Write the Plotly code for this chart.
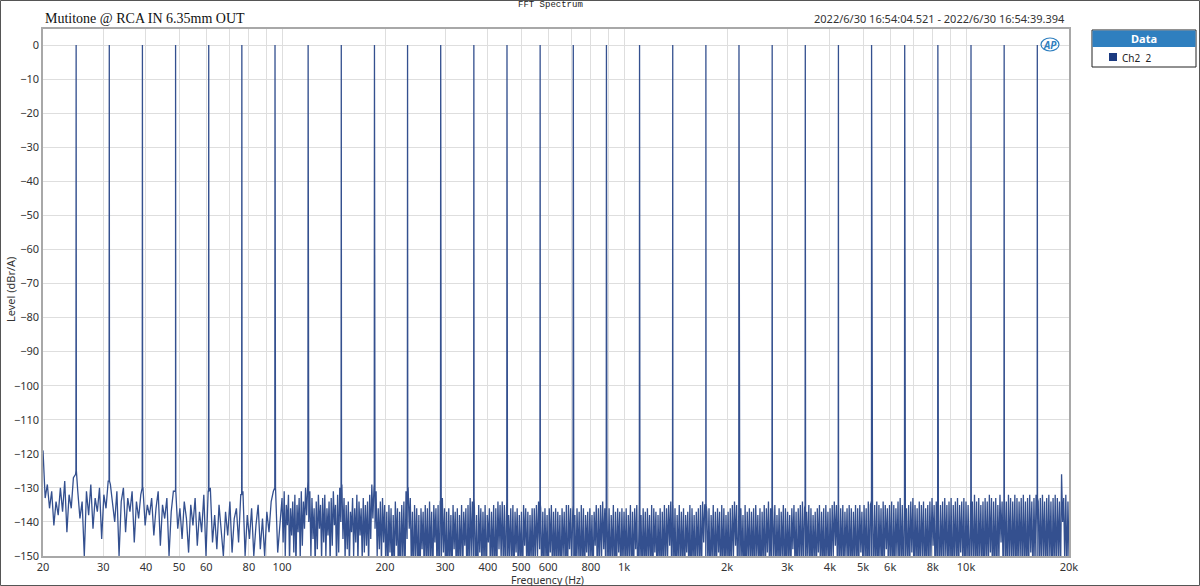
import numpy as np
import plotly.graph_objects as go

# ---------------- data ----------------
tone_freqs = [25.0, 31.25, 39.06, 48.83, 61.04, 76.29, 95.37, 119.2, 149.0, 186.3,
              232.8, 291.0, 363.8, 454.7, 568.4, 710.5, 888.2, 1110, 1388, 1735,
              2168, 2711, 3388, 4235, 5294, 6617, 8272, 10340, 12925, 16156]
tone_levels = [0] * 30
tone_base = [-125, -128, -130, -131, -131, -132, -130, -128, -130, -129,
             -130, -134, -133, -134, -135, -135, -135, -135, -135, -135,
             -135, -135, -135, -135, -134, -134, -134, -133, -133, -133]

# noise floor 20 Hz - 100 Hz
noise_20_100 = [
    -119, -133, -129, -136, -131, -141, -134, -138, -130, -137,
    -128, -143, -132, -136, -127, -126, -131, -139, -134, -150,
    -131, -138, -129, -142, -133, -137, -130, -145, -132, -136,
    -128, -129, -135, -140, -131, -150, -134, -130, -143, -133,
    -137, -131, -146, -134, -139, -132, -130, -141, -135, -138,
    -133, -144, -136, -131, -147, -135, -139, -133, -150, -137,
    -131, -130, -142, -136, -145, -134, -139, -149, -135, -141,
    -133, -147, -137, -143, -132, -150, -131, -130, -146, -138,
    -148, -135, -142, -150, -137, -144, -134, -149, -139, -136,
    -146, -132, -131, -150, -138, -145, -136, -150, -141, -135,
    -148, -139, -150, -137, -143, -134, -131, -130, -149, -140]

# noise floor 100 Hz - 1 kHz (local maxima / minima)
peaks_100_1k = [
    -133, -131, -135, -132, -136, -134, -132, -135, -133, -131,
    -134, -130, -128, -131, -133, -136, -134, -132, -135, -133,
    -132, -136, -134, -133, -131, -135, -132, -130, -129, -133,
    -135, -134, -137, -133, -136, -132, -134, -136, -133, -135,
    -134, -132, -129, -130, -131, -136, -134, -133,
    -135, -137, -135, -136, -138, -134, -136, -137, -135, -134,
    -131, -130, -133, -137, -135, -136, -138, -136, -137, -135,
    -136, -134, -137, -135, -136, -135, -134, -133, -136, -137,
    -136, -138, -135, -137, -136, -138, -135, -137, -136, -135,
    -133, -134, -136, -138, -135, -136, -137, -135, -138, -136,
    -137, -135, -136, -134, -135, -134, -135, -137, -138, -136,
    -135, -137, -136, -138, -137, -135, -136, -137, -138, -136,
    -136, -135, -134, -136, -137, -136, -138, -136, -135, -137,
    -136, -137, -138, -136, -137, -135, -135, -136, -137, -138,
    -136, -137, -135, -136, -138, -137, -136, -138, -137, -135,
    -136, -135, -134, -136, -137, -136, -138, -135, -137, -136, -137, -136]
dips_100_1k = [
    -146, -150, -141, -152, -144, -149, -153, -143, -151, -147,
    -142, -138, -140, -150, -145, -153, -148, -142, -151, -146,
    -150, -144, -152, -147, -141, -153, -149, -140, -145, -151,
    -148, -153, -143, -150, -146, -152, -144, -151, -149, -147,
    -153, -145, -139, -142, -150, -148, -152, -146,
    -152, -156, -149, -158, -153, -147, -160, -155, -151, -157,
    -145, -142, -154, -158, -150, -156, -161, -148, -155, -153,
    -157, -151, -159, -146, -154, -158, -152, -149, -156, -160,
    -153, -157, -148, -155, -159, -151, -156, -147, -158, -154,
    -150, -152, -157, -161, -149, -155, -153, -158, -146, -156,
    -152, -159, -154, -148, -151, -153, -157, -160, -150, -155,
    -158, -149, -156, -153, -161, -147, -154, -159, -152, -157,
    -151, -150, -148, -158, -155, -153, -160, -149, -156, -154,
    -157, -152, -159, -150, -155, -161, -148, -153, -158, -156,
    -151, -157, -154, -160, -149, -155, -152, -158, -147, -156,
    -153, -150, -148, -159, -154, -157, -151, -160, -155, -149, -158, -153]

# noise floor 1 kHz - 20 kHz (local maxima / minima)
peaks_1k_20k = [
    -137, -136, -138, -135, -137, -136, -135, -137, -138, -136,
    -137, -136, -138, -135, -136, -137, -138, -136, -137, -135,
    -136, -135, -134, -137, -136, -138, -135, -137, -136, -138,
    -137, -135, -136, -138, -137, -136, -135, -134, -135, -137,
    -136, -138, -135, -137, -136, -137, -135, -136, -138, -137,
    -136, -135, -134, -135, -137, -136, -138, -135, -137, -136,
    -137, -136, -135, -138, -136, -137, -135, -136, -134, -136,
    -137, -135, -138, -136, -137, -135, -136, -137, -138, -136,
    -135, -137, -136, -135, -134, -136, -137, -135, -136, -138,
    -137, -136, -135, -137, -136, -135, -137, -136, -135, -134,
    -135, -137, -136, -135, -137, -136, -135, -136, -137, -135,
    -136, -135, -137, -135, -136, -134, -135, -136, -135, -134,
    -135, -136, -134, -135, -136, -135, -134, -135, -136, -134,
    -133, -135, -134, -136, -135, -134, -133, -135, -136, -134,
    -135, -134, -136, -135, -134, -133, -135, -134, -136, -135,
    -134, -133, -135, -134, -133, -135, -134, -133, -135, -134,
    -133, -134, -135, -133, -134, -132, -134, -133, -135, -134,
    -133, -134, -132, -133, -134, -133, -135, -132, -134, -133,
    -134, -132, -133, -134, -132, -133, -134, -133, -132, -134,
    -133, -132, -134, -133, -132, -134, -133, -132, -134, -133,
    -132, -134, -133, -132, -133, -134, -126, -133, -132, -134]
dips_1k_20k = [
    -153, -157, -150, -159, -155, -148, -161, -152, -156, -154,
    -158, -151, -155, -160, -149, -157, -153, -159, -152, -156,
    -150, -147, -158, -154, -160, -151, -156, -153, -159, -149,
    -155, -161, -152, -157, -150, -158, -154, -146, -156, -153,
    -159, -151, -157, -155, -149, -160, -153, -156, -152, -158,
    -154, -150, -147, -159, -155, -152, -161, -157, -151, -156,
    -153, -158, -150, -155, -160, -152, -157, -149, -154, -159,
    -151, -156, -153, -158, -150, -161, -155, -152, -157, -148,
    -154, -159, -151, -156, -153, -160, -150, -157, -155, -152,
    -158, -149, -156, -153, -161, -151, -157, -154, -150, -147,
    -155, -159, -152, -157, -150, -156, -153, -160, -151, -158,
    -154, -149, -156, -152, -159, -155, -150, -157, -153, -161,
    -151, -158, -154, -148, -156, -152, -160, -155, -150, -157,
    -153, -159, -151, -156, -154, -149, -158, -152, -157, -155,
    -150, -160, -153, -156, -151, -147, -158, -154, -159, -152,
    -156, -150, -157, -153, -161, -151, -155, -158, -149, -154,
    -159, -152, -156, -150, -157, -153, -160, -151, -155, -158,
    -152, -156, -149, -159, -154, -157, -151, -146, -155, -153,
    -160, -150, -157, -152, -158, -154, -151, -156, -153, -159,
    -155, -149, -157, -152, -160, -153, -156, -150, -158, -154,
    -151, -159, -153, -156, -150, -157, -140, -152, -155, -150]

grid_vals = [20, 30, 40, 50, 60, 70, 80, 90, 100, 200, 300, 400, 500, 600, 700, 800, 900,
             1000, 2000, 3000, 4000, 5000, 6000, 7000, 8000, 9000, 10000, 20000]
grid_text = ["20", "30", "40", "50", "60", "", "80", "", "100", "200", "300", "400", "500",
             "600", "", "800", "", "1k", "2k", "3k", "4k", "5k", "6k", "", "8k", "", "10k", "20k"]
y_ticks = [0, -10, -20, -30, -40, -50, -60, -70, -80, -90, -100, -110, -120, -130, -140, -150]


# ---------------- build series ----------------
def interleave(peaks, dips):
    out = []
    for p, d in zip(peaks, dips):
        out += [p, d]
    return out


fa = np.geomspace(20, 100, len(noise_20_100), endpoint=False)
lb = interleave(peaks_100_1k, dips_100_1k)
fb = np.geomspace(100, 1000, len(lb), endpoint=False)
lc = interleave(peaks_1k_20k, dips_1k_20k)
fc = np.geomspace(1000, 20000, len(lc), endpoint=True)
freqs = list(fa) + list(fb) + list(fc)
levels = noise_20_100 + lb + lc
for f, lv, base in zip(tone_freqs, tone_levels, tone_base):
    freqs += [f * 0.9985, f, f * 1.0015]
    levels += [base, lv, base]
order = np.argsort(freqs)
freqs = np.array(freqs)[order]
levels = np.array(levels)[order]

fig = go.Figure()
fig.add_trace(go.Scatter(x=freqs, y=levels, mode="lines",
                         line=dict(color="#34508f", width=1.3), name="Ch2 2",
                         hoverinfo="skip", showlegend=False))

L, R, T, B = 43, 1069, 29, 556
W, H = 1200, 586


def px(x):
    return (x - L) / (R - L)


def py(y):
    return (B - y) / (B - T)


fig.update_layout(
    width=W, height=H,
    margin=dict(l=L, r=W - R, t=T, b=H - B),
    paper_bgcolor="white", plot_bgcolor="white",
    font=dict(family="Noto Sans, Open Sans, sans-serif", size=11, color="#333333"),
)
fig.update_xaxes(type="log", range=[np.log10(20), np.log10(20000)],
                 tickvals=grid_vals, ticktext=grid_text, showgrid=True,
                 gridcolor="#dedede", gridwidth=1, showline=True, linecolor="#a8a8a8",
                 linewidth=1.5, mirror=True, ticks="", tickfont=dict(size=11, color="#333"),
                 zeroline=False)
fig.update_yaxes(range=[-150, 4.7], tickvals=y_ticks, showgrid=True, gridcolor="#dedede",
                 gridwidth=1, showline=True, linecolor="#a8a8a8", linewidth=1.5, mirror=True,
                 ticks="", tickfont=dict(size=11, color="#333"), zeroline=False)

shapes = [
    # outer frame
    dict(type="rect", xref="paper", yref="paper", x0=px(0.5), x1=px(1199.5), y0=py(585.5), y1=py(0.5),
         line=dict(color="#555555", width=1), layer="below"),
    # legend box
    dict(type="rect", xref="paper", yref="paper", x0=px(1092), x1=px(1196), y0=py(67), y1=py(30),
         line=dict(color="#222222", width=1), fillcolor="white"),
    dict(type="rect", xref="paper", yref="paper", x0=px(1092.5), x1=px(1195.5), y0=py(47), y1=py(30.5),
         line=dict(width=0), fillcolor="#2f7fbf"),
    dict(type="rect", xref="paper", yref="paper", x0=px(1109), x1=px(1117), y0=py(61), y1=py(53),
         line=dict(width=0), fillcolor="#1b3a80"),
    # AP logo ring
    dict(type="circle", xref="paper", yref="paper", x0=px(1041), x1=px(1059), y0=py(51), y1=py(38),
         line=dict(color="#2f7fbf", width=1.2)),
]

annotations = [
    dict(text="Mutitone @ RCA IN 6.35mm OUT", x=px(43), y=py(18), xanchor="left", yanchor="middle",
         font=dict(family="Liberation Serif, serif", size=14, color="#111111")),
    dict(text="FFT Spectrum", x=px(550), y=py(5), xanchor="center", yanchor="middle",
         font=dict(family="Liberation Mono, monospace", size=9, color="#222222")),
    dict(text="2022/6/30 16:54:04.521 - 2022/6/30 16:54:39.394", x=px(1067), y=py(18),
         xanchor="right", yanchor="middle", font=dict(size=11, color="#333333")),
    dict(text="Frequency (Hz)", x=px(547), y=py(579.5), xanchor="center", yanchor="middle",
         font=dict(size=10.5, color="#333333")),
    dict(text="Level (dBr/A)", x=px(10), y=py(290), xanchor="center", yanchor="middle",
         textangle=-90, font=dict(size=11, color="#333333")),
    dict(text="<b>Data</b>", x=px(1144), y=py(39), xanchor="center", yanchor="middle",
         font=dict(size=11, color="white")),
    dict(text="Ch2  2", x=px(1120), y=py(58), xanchor="left", yanchor="middle",
         font=dict(size=10, color="#222222")),
    dict(text="<b><i>AP</i></b>", x=px(1050), y=py(44.5), xanchor="center", yanchor="middle",
         font=dict(size=10, color="#2f7fbf")),
]
for a in annotations:
    a.update(xref="paper", yref="paper", showarrow=False)

fig.update_layout(shapes=shapes, annotations=annotations)
fig.write_html("out.html", config={"displayModeBar": False},
               post_script="document.body.style.margin='0';")
